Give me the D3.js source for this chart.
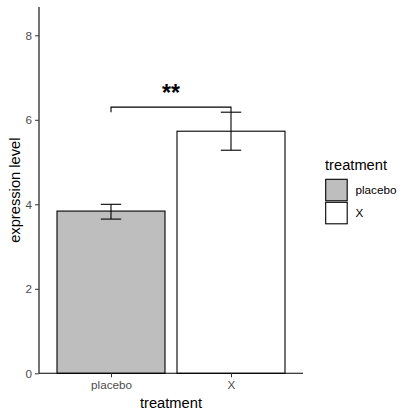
<!DOCTYPE html>
<html><head><meta charset="utf-8">
<script src="https://cdn.jsdelivr.net/npm/d3@7"></script>
<style>body{margin:0;background:#fff}svg{display:block}text{font-family:"Liberation Sans",Arial,sans-serif}</style>
</head><body>
<script>
const categories = ["placebo", "X"];
const means = [3.84, 5.73];
const errLow = [3.65, 5.28];
const errHigh = [4.00, 6.18];
const fills = ["#BEBEBE", "#FFFFFF"];
const yTicks = [0, 2, 4, 6, 8];
const sigLabel = "**";
const sigY = 6.3;

(function () {
const W = 414, H = 418;
const svg = d3.select("body").append("svg").attr("width", W).attr("height", H);
const pL = 39, pR = 303, pT = 7, pB = 373.3;

// ggplot-like discrete scale: positions 1..n with 0.6 expansion
const xPos = d3.scaleLinear().domain([0.4, categories.length + 0.6]).range([pL, pR]);
const y = d3.scaleLinear().domain([0, 8.67]).range([pB, pT]);

const g = svg.append("g");
categories.forEach((c, i) => {
  g.append("rect").attr("x", xPos(i + 1 - 0.45)).attr("width", xPos(i + 1 + 0.45) - xPos(i + 1 - 0.45))
    .attr("y", y(means[i])).attr("height", y(0) - y(means[i]))
    .attr("fill", fills[i]).attr("stroke", "#000").attr("stroke-width", 1.1);
});
categories.forEach((c, i) => {
  const cx = xPos(i + 1), hw = xPos(1.085) - xPos(1);
  const e = g.append("g").attr("stroke", "#000").attr("stroke-width", 1.1).attr("fill", "none");
  e.append("line").attr("x1", cx).attr("x2", cx).attr("y1", y(errLow[i])).attr("y2", y(errHigh[i]));
  e.append("line").attr("x1", cx - hw).attr("x2", cx + hw).attr("y1", y(errLow[i])).attr("y2", y(errLow[i]));
  e.append("line").attr("x1", cx - hw).attr("x2", cx + hw).attr("y1", y(errHigh[i])).attr("y2", y(errHigh[i]));
});
const x1 = xPos(1), x2 = xPos(2);
g.append("path").attr("fill", "none").attr("stroke", "#000").attr("stroke-width", 1.1)
  .attr("d", `M${x1},${y(sigY - 0.12)}V${y(sigY)}H${x2}V${y(errHigh[1])}`);
svg.append("text").attr("x", (x1 + x2) / 2).attr("y", y(sigY) - 6).attr("text-anchor", "middle")
  .attr("font-size", 23).attr("font-weight", "bold").text(sigLabel);

const yAxis = d3.axisLeft(y).tickValues(yTicks).tickSize(4).tickPadding(3);
const ya = svg.append("g").attr("transform", `translate(${pL},0)`).call(yAxis);
ya.select(".domain").attr("d", `M0,${pT}V${pB}`).attr("stroke", "#000").attr("stroke-width", 1.1);
ya.selectAll(".tick line").attr("stroke", "#333");
ya.selectAll(".tick text").attr("fill", "#4D4D4D").attr("font-size", 11.7).attr("font-family", '"Liberation Sans",Arial,sans-serif');

const xAxis = d3.axisBottom(xPos).tickValues(categories.map((c, i) => i + 1)).tickFormat((d) => categories[d - 1]).tickSize(4).tickPadding(3);
const xa = svg.append("g").attr("transform", `translate(0,${pB})`).call(xAxis);
xa.select(".domain").attr("d", `M${pL},0H${pR}`).attr("stroke", "#000").attr("stroke-width", 1.1);
xa.selectAll(".tick line").attr("stroke", "#333");
xa.selectAll(".tick text").attr("fill", "#4D4D4D").attr("font-size", 11.7).attr("font-family", '"Liberation Sans",Arial,sans-serif');

svg.append("text").attr("x", (pL + pR) / 2).attr("y", 408).attr("text-anchor", "middle").attr("font-size", 14.7).text("treatment");
svg.append("text").attr("transform", `translate(20,${(pT + pB) / 2}) rotate(-90)`).attr("text-anchor", "middle").attr("font-size", 14.7).text("expression level");

const lg = svg.append("g").attr("transform", "translate(325,0)");
lg.append("text").attr("x", 0).attr("y", 170).attr("font-size", 14.7).text("treatment");
categories.forEach((c, i) => {
  const ky = 179.3 + i * 23;
  lg.append("rect").attr("x", 0.7).attr("y", ky).attr("width", 21.5).attr("height", 21.5)
    .attr("fill", fills[i]).attr("stroke", "#000").attr("stroke-width", 1.1);
  lg.append("text").attr("x", 30.5).attr("y", ky + 15).attr("font-size", 11.7).text(c);
});
})();
</script>
</body></html>
